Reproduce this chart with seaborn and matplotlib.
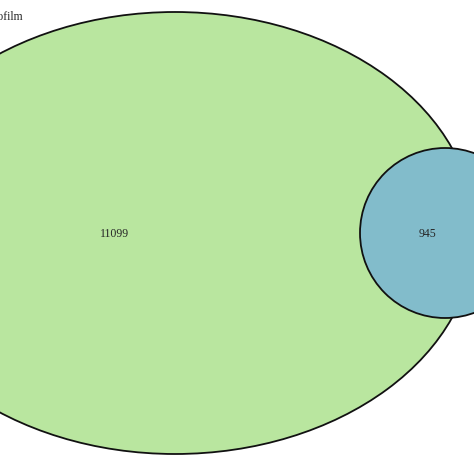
import matplotlib
matplotlib.use("Agg")
import matplotlib.pyplot as plt
import seaborn as sns
from matplotlib.patches import Ellipse

sns.set_style("white")
plt.rcParams['font.family'] = ['Liberation Serif', 'DejaVu Serif']

set_names = ["Biofilm", "Other"]
region_counts = [11099, 945]

fig = plt.figure(figsize=(4.74, 4.74), dpi=100)
ax = fig.add_axes([0, 0, 1, 1])
ax.set_xlim(0, 474)
ax.set_ylim(474, 0)
ax.axis("off")

ax.add_patch(Ellipse((175, 233), 600, 442, facecolor="#b9e69f", edgecolor="#111111", lw=1.3))
ax.add_patch(Ellipse((445, 233), 170, 170, facecolor="#82bccb", edgecolor="#111111", lw=1.3))

ax.text(115, 234, str(region_counts[0]), ha="center", va="center", fontsize=8.5)
ax.text(428, 234, str(region_counts[1]), ha="center", va="center", fontsize=8.5)
ax.text(23, 17, set_names[0], ha="right", va="center", fontsize=8.5)

fig.savefig("out.png", dpi=100)
